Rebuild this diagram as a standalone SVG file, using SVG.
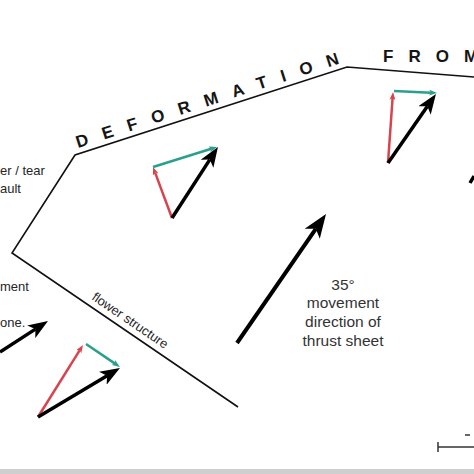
<svg xmlns="http://www.w3.org/2000/svg" width="474" height="474" viewBox="0 0 474 474">
<defs>
<style>
.outline{fill:none;stroke:#111;stroke-width:1.6;stroke-linejoin:miter}
.blk{fill:none;stroke:#000;stroke-width:3.5}
.big{fill:none;stroke:#000;stroke-width:4}
.red{fill:none;stroke:#d9434d;stroke-width:2.5}
.teal{fill:none;stroke:#2a9f8e;stroke-width:2.5}
.front{font-family:"Liberation Sans",Arial,sans-serif;font-size:17px;font-weight:bold;fill:#151515;letter-spacing:15px}
.lbl{font-family:"Liberation Sans",Arial,sans-serif;font-size:13px;fill:#262626}
.mid{font-family:"Liberation Sans",Arial,sans-serif;font-size:15.5px;fill:#333;text-anchor:middle}
</style>
<marker id="hBig" viewBox="0 0 24 18" refX="6" refY="9" markerWidth="24" markerHeight="18" markerUnits="userSpaceOnUse" orient="auto"><path d="M0,0 L24,9 L0,18 L6,9 z" fill="#000"/></marker>
<marker id="hMid" viewBox="0 0 20 15" refX="5" refY="7.5" markerWidth="20" markerHeight="15" markerUnits="userSpaceOnUse" orient="auto"><path d="M0,0 L20,7.5 L0,15 L5,7.5 z" fill="#000"/></marker>
<marker id="hRed" viewBox="0 0 8 6" refX="2" refY="3" markerWidth="8" markerHeight="6" markerUnits="userSpaceOnUse" orient="auto"><path d="M0,0 L8,3 L0,6 L2,3 z" fill="#d9434d"/></marker>
<marker id="hTeal" viewBox="0 0 8 6" refX="2" refY="3" markerWidth="8" markerHeight="6" markerUnits="userSpaceOnUse" orient="auto"><path d="M0,0 L8,3 L0,6 L2,3 z" fill="#2a9f8e"/></marker>
</defs>
<rect width="474" height="474" fill="#fff"/>
<rect x="0" y="469" width="474" height="5" fill="#cfcfcf"/>

<g id="front-line">
<polyline class="outline" points="474,77 347,67 75,155 12,253 238,407"/>
<text class="front" transform="translate(78,148) rotate(-17.9)" x="0" y="0">DEFORMATION</text>
<text class="front" x="383" y="62">FROM</text>
</g>

<g id="labels-left">
<text class="lbl" x="0" y="175">er / tear</text>
<text class="lbl" x="0" y="193">ault</text>
<text class="lbl" x="0" y="291">ment</text>
<text class="lbl" x="0" y="327">one.</text>
<text class="lbl" font-size="13.5" transform="translate(91,299) rotate(34.3)">flower structure</text>
</g>

<g id="movement-label">
<text class="mid" x="343" y="290">35°</text>
<text class="mid" x="343" y="308">movement</text>
<text class="mid" x="343" y="327">direction of</text>
<text class="mid" x="343" y="346">thrust sheet</text>
</g>

<g id="connectors">
<g id="thrust-arrow">
<line class="big" x1="237" y1="343" x2="315.8" y2="228.8" marker-end="url(#hBig)"/>
</g>
<g id="vectors-1">
<line class="red" x1="172" y1="218" x2="155.1" y2="172.6" marker-end="url(#hRed)"/>
<line class="teal" x1="153" y1="167" x2="211.3" y2="148.8" marker-end="url(#hTeal)"/>
<line class="blk" x1="172" y1="218" x2="209.8" y2="159.6" marker-end="url(#hMid)"/>
</g>
<g id="vectors-2">
<line class="red" x1="388" y1="163" x2="392.6" y2="98" marker-end="url(#hRed)"/>
<line class="teal" x1="394" y1="91" x2="431" y2="92.7" marker-end="url(#hTeal)"/>
<line class="blk" x1="388" y1="163" x2="427.4" y2="106.3" marker-end="url(#hMid)"/>
</g>
<g id="vectors-3">
<line class="red" x1="38" y1="417" x2="79.8" y2="350.1" marker-end="url(#hRed)"/>
<line class="teal" x1="86" y1="344" x2="115" y2="363.6" marker-end="url(#hTeal)"/>
<line class="blk" x1="38" y1="417" x2="107.1" y2="375.7" marker-end="url(#hMid)"/>
</g>
<g id="left-arrow">
<line class="blk" x1="0" y1="352" x2="35.4" y2="329.1" marker-end="url(#hMid)"/>
</g>
<line class="blk" x1="470" y1="183" x2="474" y2="176"/>
</g>

<g id="scale-bar">
<line x1="438" y1="447" x2="474" y2="447" stroke="#333" stroke-width="1.5"/>
<line x1="438" y1="442" x2="438" y2="452" stroke="#333" stroke-width="1.5"/>
<line x1="465" y1="435" x2="470" y2="435" stroke="#333" stroke-width="1.5"/>
</g>
</svg>
